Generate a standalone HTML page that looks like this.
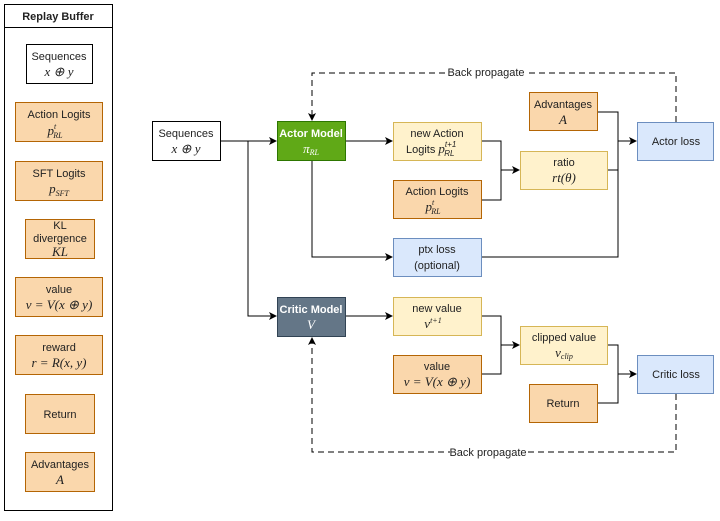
<!DOCTYPE html>
<html><head><meta charset="utf-8"><style>
body{margin:0;background:#fff}
text{font-family:"Liberation Sans",sans-serif;font-size:11px;fill:#222}
.m{font-family:"Liberation Serif",serif;font-style:italic;font-size:13px}
.s{font-size:8px}
</style></head><body>
<svg width="720" height="516" viewBox="0 0 720 516" xmlns="http://www.w3.org/2000/svg">
<defs><marker id="a" markerWidth="8" markerHeight="8" refX="7" refY="4" orient="auto" markerUnits="userSpaceOnUse"><path d="M0,0L8,4L0,8L2,4z" fill="#000"/></marker></defs>
<!-- replay buffer -->
<rect x="4.5" y="4.5" width="108" height="506" fill="#fff" stroke="#000"/>
<line x1="4.5" y1="27.5" x2="112.5" y2="27.5" stroke="#000"/>
<text x="58" y="20" text-anchor="middle" font-weight="bold">Replay Buffer</text>
<g stroke-width="1">
<rect x="26.5" y="44.5" width="66" height="39" fill="#fff" stroke="#000"/>
<rect x="15.5" y="102.5" width="87" height="39" fill="#fad7ac" stroke="#b46504"/>
<rect x="15.5" y="161.5" width="87" height="39" fill="#fad7ac" stroke="#b46504"/>
<rect x="25.5" y="219.5" width="69" height="39" fill="#fad7ac" stroke="#b46504"/>
<rect x="15.5" y="277.5" width="87" height="39" fill="#fad7ac" stroke="#b46504"/>
<rect x="15.5" y="335.5" width="87" height="39" fill="#fad7ac" stroke="#b46504"/>
<rect x="25.5" y="394.5" width="69" height="39" fill="#fad7ac" stroke="#b46504"/>
<rect x="25.5" y="452.5" width="69" height="39" fill="#fad7ac" stroke="#b46504"/>
</g>
<text x="59" y="60" text-anchor="middle">Sequences</text><text x="59" y="76" text-anchor="middle" class="m">x ⊕ y</text>
<text x="59" y="118" text-anchor="middle">Action Logits</text><text x="55" y="135" text-anchor="middle" class="m">p<tspan class="s" dy="-6">t</tspan><tspan class="s" dx="-3" dy="9">RL</tspan></text>
<text x="59" y="177" text-anchor="middle">SFT Logits</text><text x="59" y="193" text-anchor="middle" class="m">p<tspan class="s" dy="3">SFT</tspan></text>
<text x="60" y="229" text-anchor="middle">KL</text><text x="60" y="242" text-anchor="middle">divergence</text><text x="60" y="256" text-anchor="middle" class="m">KL</text>
<text x="59" y="293" text-anchor="middle">value</text><text x="59" y="309" text-anchor="middle" class="m">v = V(x ⊕ y)</text>
<text x="59" y="351" text-anchor="middle">reward</text><text x="59" y="367" text-anchor="middle" class="m">r = R(x, y)</text>
<text x="60" y="418" text-anchor="middle">Return</text>
<text x="60" y="468" text-anchor="middle">Advantages</text><text x="60" y="484" text-anchor="middle" class="m">A</text>
<!-- connectors -->
<g fill="none" stroke="#000">
<path d="M220,141H276" marker-end="url(#a)"/>
<path d="M248,141V316H276" marker-end="url(#a)"/>
<path d="M346,141H392" marker-end="url(#a)"/>
<path d="M312,161V257H392" marker-end="url(#a)"/>
<path d="M482,141H501V200H482M501,170H519" marker-end="url(#a)"/>
<path d="M598,112H618V257H482M608,170H618M618,141H636" marker-end="url(#a)"/>
<path d="M346,316H392" marker-end="url(#a)"/>
<path d="M482,316H501V374H482M501,345H519" marker-end="url(#a)"/>
<path d="M608,345H618V403H598M618,374H636" marker-end="url(#a)"/>
<path d="M676,122V73H312V120" stroke-dasharray="6,4" marker-end="url(#a)"/>
<path d="M676,394V452H312V338" stroke-dasharray="6,4" marker-end="url(#a)"/>
</g>
<rect x="447" y="66" width="78" height="13" fill="#fff"/><text x="486" y="76" text-anchor="middle">Back propagate</text>
<rect x="450" y="445" width="76" height="13" fill="#fff"/><text x="488" y="456" text-anchor="middle">Back propagate</text>
<!-- boxes -->
<rect x="152.5" y="121.5" width="68" height="39" fill="#fff" stroke="#000"/>
<text x="186" y="137" text-anchor="middle">Sequences</text><text x="186" y="153" text-anchor="middle" class="m">x ⊕ y</text>
<rect x="277.5" y="121.5" width="68" height="39" fill="#60a917" stroke="#2d7600"/>
<text x="311" y="137" text-anchor="middle" font-weight="bold" style="fill:#fff">Actor Model</text><text x="311" y="153" text-anchor="middle" class="m" style="fill:#fff">π<tspan class="s" dy="2">RL</tspan></text>
<rect x="277.5" y="297.5" width="68" height="39" fill="#647687" stroke="#314354"/>
<text x="311" y="313" text-anchor="middle" font-weight="bold" style="fill:#fff">Critic Model</text><text x="311" y="329" text-anchor="middle" class="m" style="fill:#fff">V</text>
<rect x="393.5" y="122.5" width="88" height="38" fill="#fff2cc" stroke="#d6b656"/>
<text x="437" y="137" text-anchor="middle">new Action</text><text x="406" y="153">Logits <tspan class="m">p</tspan><tspan class="s" dy="-6" font-style="italic">t+1</tspan><tspan class="s" dx="-12" dy="9" font-style="italic">RL</tspan></text>
<rect x="393.5" y="180.5" width="88" height="38" fill="#fad7ac" stroke="#b46504"/>
<text x="437" y="195" text-anchor="middle">Action Logits</text><text x="433" y="211" text-anchor="middle" class="m">p<tspan class="s" dy="-6">t</tspan><tspan class="s" dx="-3" dy="9">RL</tspan></text>
<rect x="393.5" y="238.5" width="88" height="38" fill="#dae8fc" stroke="#6c8ebf"/>
<text x="437" y="253" text-anchor="middle">ptx loss</text><text x="437" y="269" text-anchor="middle">(optional)</text>
<rect x="520.5" y="151.5" width="87" height="38" fill="#fff2cc" stroke="#d6b656"/>
<text x="564" y="166" text-anchor="middle">ratio</text><text x="564" y="182" text-anchor="middle" class="m">rt(θ)</text>
<rect x="529.5" y="92.5" width="68" height="38" fill="#fad7ac" stroke="#b46504"/>
<text x="563" y="108" text-anchor="middle">Advantages</text><text x="563" y="124" text-anchor="middle" class="m">A</text>
<rect x="637.5" y="122.5" width="76" height="38" fill="#dae8fc" stroke="#6c8ebf"/>
<text x="676" y="145" text-anchor="middle">Actor loss</text>
<rect x="393.5" y="297.5" width="88" height="38" fill="#fff2cc" stroke="#d6b656"/>
<text x="437" y="312" text-anchor="middle">new value</text><text x="433" y="328" text-anchor="middle" class="m">v<tspan class="s" dy="-5">t+1</tspan></text>
<rect x="393.5" y="355.5" width="88" height="38" fill="#fad7ac" stroke="#b46504"/>
<text x="437" y="370" text-anchor="middle">value</text><text x="437" y="386" text-anchor="middle" class="m">v = V(x ⊕ y)</text>
<rect x="520.5" y="326.5" width="87" height="38" fill="#fff2cc" stroke="#d6b656"/>
<text x="564" y="341" text-anchor="middle">clipped value</text><text x="564" y="357" text-anchor="middle" class="m">v<tspan class="s" dy="2">clip</tspan></text>
<rect x="529.5" y="384.5" width="68" height="38" fill="#fad7ac" stroke="#b46504"/>
<text x="563" y="407" text-anchor="middle">Return</text>
<rect x="637.5" y="355.5" width="76" height="38" fill="#dae8fc" stroke="#6c8ebf"/>
<text x="676" y="378" text-anchor="middle">Critic loss</text>
</svg>
</body></html>
